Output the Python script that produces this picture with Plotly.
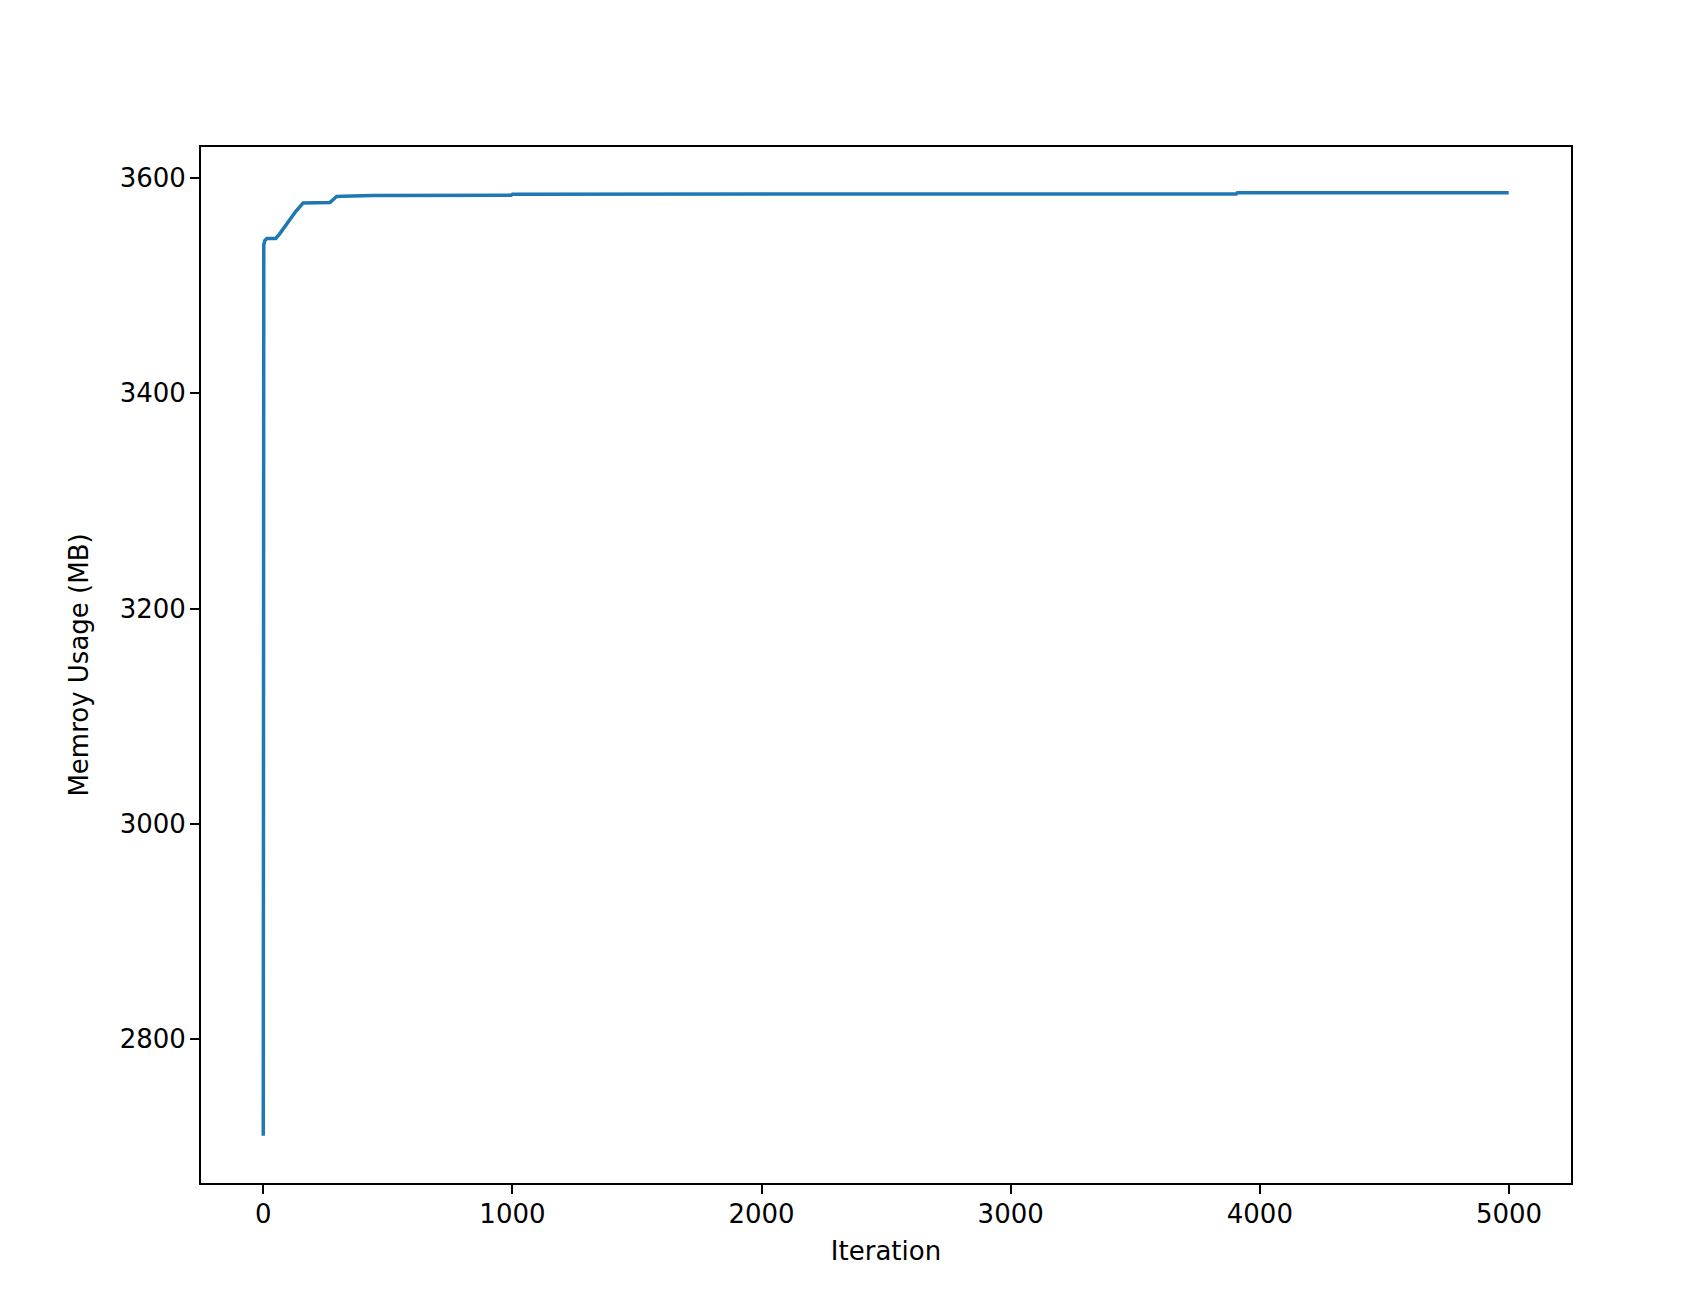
import plotly.graph_objects as go

# Data
iteration = [0, 0, 2, 6, 14, 28, 50, 65, 100, 130, 160, 268, 280, 294, 320, 430, 440,
             995, 1000, 3905, 3910, 4999]
memory_mb = [2710, 3532, 3538, 3542, 3544, 3544, 3544, 3548, 3559, 3569, 3577, 3577.5, 3580,
             3583, 3583.2, 3583.4, 3584, 3584.1, 3585.1, 3585.4, 3586.5, 3586.5]

x_ticks = [0, 1000, 2000, 3000, 4000, 5000]
y_ticks = [2800, 3000, 3200, 3400, 3600]

FONT = "DejaVu Sans"

fig = go.Figure()
fig.add_trace(go.Scatter(
    x=iteration, y=memory_mb, mode="lines",
    line=dict(color="#1f77b4", width=3.5),
    showlegend=False,
))

axis_common = dict(
    showgrid=False, zeroline=False,
    showline=True, linecolor="black", linewidth=2, mirror=True,
    ticks="outside", ticklen=9, tickwidth=2, tickcolor="black",
    tickfont=dict(family=FONT, size=26, color="black"),
)

fig.update_layout(
    width=1688, height=1294,
    margin=dict(l=193, r=125, t=139, b=119),
    paper_bgcolor="white", plot_bgcolor="white",
    font=dict(family=FONT, color="black"),
    xaxis=dict(
        range=[-250, 5249], tickvals=x_ticks,
        ticklabelstandoff=-2,
        title=dict(text="Iteration", font=dict(family=FONT, size=26), standoff=14),
        **axis_common,
    ),
    yaxis=dict(
        range=[2666, 3629], tickvals=y_ticks,
        ticklabelstandoff=-1,
        title=dict(text="Memroy Usage (MB)", font=dict(family=FONT, size=26), standoff=24),
        **axis_common,
    ),
)

fig.write_html("out.html")
